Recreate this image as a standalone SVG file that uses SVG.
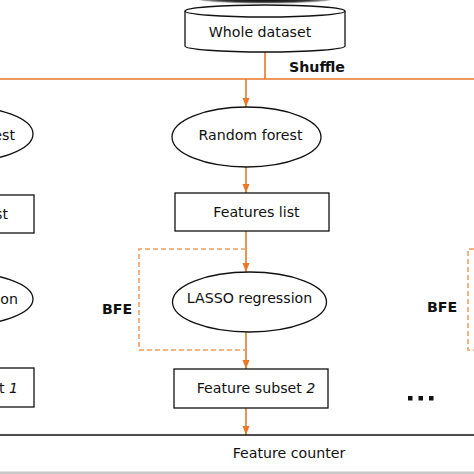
<svg xmlns="http://www.w3.org/2000/svg" width="474" height="474" viewBox="0 0 474 474">
<defs>
<marker id="arr" markerUnits="userSpaceOnUse" markerWidth="9" markerHeight="8" refX="9" refY="4" orient="auto">
<path d="M0,0.5 L9,4 L0,7.5 z" fill="#E8782A"/>
</marker>
<radialGradient id="shade" cx="0.5" cy="0.5" r="0.5">
<stop offset="0" stop-color="#000"/>
<stop offset="0.7" stop-color="#333"/>
<stop offset="1" stop-color="#bbb"/>
</radialGradient>
<style>
.shape{fill:#fff;stroke:#111;stroke-width:1.3}
.t{font-family:"DejaVu Sans",Verdana,sans-serif;font-size:14.2px;fill:#111}
.b{font-weight:bold}
.or{stroke:#E8782A;stroke-width:1.6;fill:none}
.dash{stroke:#EE9A5E;stroke-width:1.5;fill:none;stroke-dasharray:5 3}
</style>
</defs>
<rect width="474" height="474" fill="#fff"/>
<rect y="471.5" width="474" height="2.5" fill="#c8c8c8"/>

<g id="connectors">
<line class="or" x1="0" y1="79" x2="474" y2="79"/>
<line class="or" x1="265" y1="52" x2="265" y2="79"/>
<line class="or" x1="246" y1="79" x2="246" y2="107" marker-end="url(#arr)"/>
<line class="or" x1="246" y1="167" x2="246" y2="193" marker-end="url(#arr)"/>
<line class="or" x1="246" y1="231" x2="246" y2="272" marker-end="url(#arr)"/>
<line class="or" x1="246" y1="332" x2="246" y2="369" marker-end="url(#arr)"/>
<line class="or" x1="246" y1="408" x2="246" y2="435" marker-end="url(#arr)"/>
<path class="dash" d="M246,249 H139 V350 H246"/>
<path class="dash" d="M474,249 H468 V350 H474"/>
<line x1="0" y1="435" x2="474" y2="435" stroke="#111" stroke-width="1.6"/>
</g>

<g id="whole-dataset">
<ellipse cx="265" cy="-1" rx="68" ry="4.5" fill="url(#shade)"/>
<path class="shape" d="M185,11 V46 A80,6 0 0 0 345,46 V11"/>
<ellipse class="shape" cx="265" cy="11" rx="80" ry="6"/>
<text class="t" x="260" y="37" text-anchor="middle">Whole dataset</text>
</g>
<text class="t b" x="289" y="72">Shuffle</text>

<g id="rf-left">
<ellipse class="shape" cx="-42" cy="134" rx="75" ry="28"/>
<text class="t" x="15" y="140" text-anchor="end">Random forest</text>
</g>
<g id="fl-left">
<rect class="shape" x="-120" y="195" width="154" height="38"/>
<text class="t" x="8" y="219" text-anchor="end">Features list</text>
</g>
<g id="lasso-left">
<ellipse class="shape" cx="-44" cy="299" rx="77" ry="27"/>
<text class="t" x="18" y="304" text-anchor="end">LASSO regression</text>
</g>
<g id="fs-left">
<rect class="shape" x="-120" y="368" width="154" height="39"/>
<text class="t" x="18" y="393" text-anchor="end">Feature subset <tspan font-style="italic">1</tspan></text>
</g>
<text class="t b" x="117" y="314" text-anchor="middle">BFE</text>

<g id="rf-mid">
<ellipse class="shape" cx="246.5" cy="137" rx="74.5" ry="30"/>
<text class="t" x="250.5" y="140" text-anchor="middle">Random forest</text>
</g>
<g id="fl-mid">
<rect class="shape" x="175" y="193" width="154" height="38"/>
<text class="t" x="256.5" y="217" text-anchor="middle">Features list</text>
</g>
<g id="lasso-mid">
<ellipse class="shape" cx="249.5" cy="302" rx="77" ry="30"/>
<text class="t" x="249.5" y="303" text-anchor="middle">LASSO regression</text>
</g>
<g id="fs-mid">
<rect class="shape" x="174" y="369" width="154" height="39"/>
<text class="t" x="256" y="393" text-anchor="middle">Feature subset <tspan font-style="italic">2</tspan></text>
</g>

<text class="t b" x="442" y="312" text-anchor="middle">BFE</text>
<g id="ellipsis" fill="#111">
<rect x="408" y="396" width="4.5" height="4.5"/>
<rect x="418.5" y="396" width="4.5" height="4.5"/>
<rect x="429" y="396" width="4.5" height="4.5"/>
</g>

<g id="feature-counter">
<text class="t" x="289" y="458" text-anchor="middle">Feature counter</text>
</g>
</svg>
